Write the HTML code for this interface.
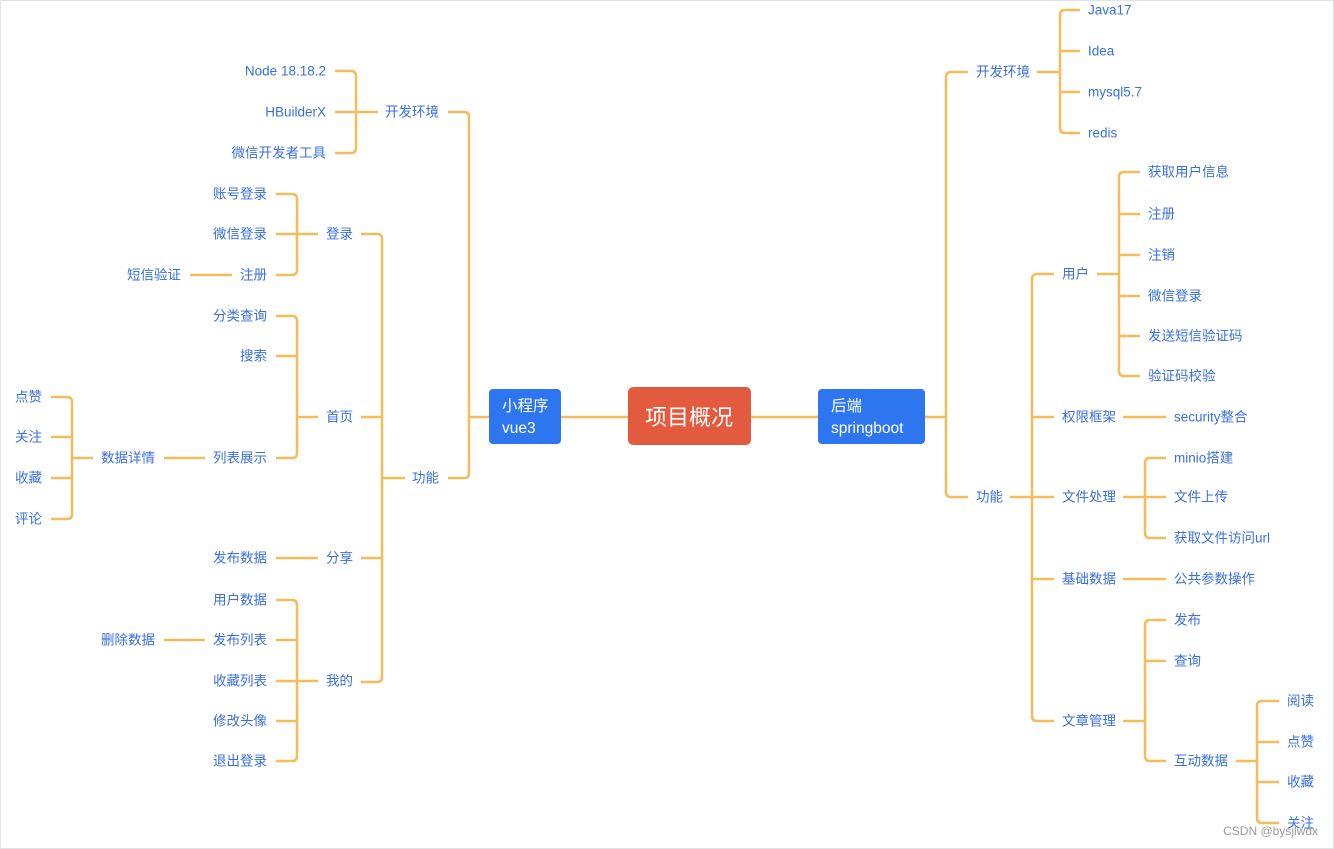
<!DOCTYPE html>
<html><head><meta charset="utf-8"><style>
html,body{margin:0;padding:0;background:#fff}
svg{display:block}
text{font-family:"Liberation Sans","Noto Sans CJK SC",sans-serif;font-size:13.5px;fill:#3a6fe0;dominant-baseline:middle}
.e{text-anchor:end}
.w{fill:#fff;font-size:15.5px}
</style></head><body>
<svg width="1334" height="849" viewBox="0 0 1334 849" xmlns="http://www.w3.org/2000/svg">
<rect x="0.5" y="0.5" width="1333" height="848" fill="#fff" stroke="#dfe3e8"/>
<g fill="none" stroke="#f2bd5a" stroke-width="2.5">
<path d="M335,71 H351 Q356,71 356,76 V148 Q356,153 351,153 H335 M335,112 H378"/>
<path d="M448,112 H464 Q469,112 469,117 V473 Q469,478 464,478 H448 M469,417 H489"/>
<path d="M276,194 H292 Q297,194 297,199 V270 Q297,275 292,275 H276 M276,234 H318 M190,275 H232"/>
<path d="M361,234 H377 Q382,234 382,239 V677 Q382,682 377,682 H361 M361,417 H382 M361,558 H382 M382,478 H405"/>
<path d="M276,316 H292 Q297,316 297,321 V453 Q297,458 292,458 H276 M276,356 H297 M297,417 H318 M164,458 H205"/>
<path d="M51,397 H67 Q72,397 72,402 V514 Q72,519 67,519 H51 M51,437 H72 M51,478 H72 M72,458 H93"/>
<path d="M276,558 H318"/>
<path d="M276,600 H292 Q297,600 297,605 V756 Q297,761 292,761 H276 M276,640 H297 M276,681 H318 M276,721 H297 M164,640 H205"/>
<path d="M561,417 H628 M751,417 H818"/>
<path d="M925,417 H946 M968,72 H951 Q946,72 946,77 V492 Q946,497 951,497 H968"/>
<path d="M1037,72 H1060 M1080,10 H1065 Q1060,10 1060,15 V128 Q1060,133 1065,133 H1080 M1060,51 H1080 M1060,92 H1080"/>
<path d="M1010,497 H1054 M1054,274 H1037 Q1032,274 1032,279 V716 Q1032,721 1037,721 H1054 M1032,417 H1054 M1032,579 H1054"/>
<path d="M1097,274 H1119 M1140,172 H1124 Q1119,172 1119,177 V371 Q1119,376 1124,376 H1140 M1119,214 H1140 M1119,255 H1140 M1119,296 H1140 M1119,336 H1140"/>
<path d="M1123,417 H1166 M1123,497 H1166 M1166,458 H1150 Q1145,458 1145,463 V533 Q1145,538 1150,538 H1166"/>
<path d="M1123,579 H1166"/>
<path d="M1123,721 H1145 M1166,620 H1150 Q1145,620 1145,625 V756 Q1145,761 1150,761 H1166 M1145,661 H1166"/>
<path d="M1236,761 H1257 M1279,701 H1262 Q1257,701 1257,706 V818 Q1257,823 1262,823 H1279 M1257,742 H1279 M1257,782 H1279"/>
</g>
<rect x="489" y="389" width="72" height="55" rx="4" fill="#2d76ef"/>
<text x="502" y="407" class="w">小程序</text><text x="502" y="429" class="w">vue3</text>
<rect x="628" y="387" width="123" height="58" rx="5" fill="#e35b3f"/>
<text x="689" y="419" class="w" style="font-size:22px;text-anchor:middle">项目概况</text>
<rect x="818" y="389" width="107" height="55" rx="4" fill="#2d76ef"/>
<text x="831" y="407" class="w">后端</text><text x="831" y="429" class="w">springboot</text>
<g transform="translate(0,1)">
<text x="326" y="71" class="e">Node 18.18.2</text>
<text x="326" y="112" class="e">HBuilderX</text>
<text x="326" y="153" class="e">微信开发者工具</text>
<text x="439" y="112" class="e">开发环境</text>
<text x="267" y="194" class="e">账号登录</text>
<text x="267" y="234" class="e">微信登录</text>
<text x="267" y="275" class="e">注册</text>
<text x="181" y="275" class="e">短信验证</text>
<text x="353" y="234" class="e">登录</text>
<text x="267" y="316" class="e">分类查询</text>
<text x="267" y="356" class="e">搜索</text>
<text x="267" y="458" class="e">列表展示</text>
<text x="353" y="417" class="e">首页</text>
<text x="155" y="458" class="e">数据详情</text>
<text x="42" y="397" class="e">点赞</text>
<text x="42" y="437" class="e">关注</text>
<text x="42" y="478" class="e">收藏</text>
<text x="42" y="519" class="e">评论</text>
<text x="439" y="478" class="e">功能</text>
<text x="267" y="558" class="e">发布数据</text>
<text x="353" y="558" class="e">分享</text>
<text x="267" y="600" class="e">用户数据</text>
<text x="267" y="640" class="e">发布列表</text>
<text x="267" y="681" class="e">收藏列表</text>
<text x="267" y="721" class="e">修改头像</text>
<text x="267" y="761" class="e">退出登录</text>
<text x="353" y="681" class="e">我的</text>
<text x="155" y="640" class="e">删除数据</text>

<text x="976" y="72">开发环境</text>
<text x="1088" y="10">Java17</text>
<text x="1088" y="51">Idea</text>
<text x="1088" y="92">mysql5.7</text>
<text x="1088" y="133">redis</text>
<text x="976" y="497">功能</text>
<text x="1062" y="274">用户</text>
<text x="1148" y="172">获取用户信息</text>
<text x="1148" y="214">注册</text>
<text x="1148" y="255">注销</text>
<text x="1148" y="296">微信登录</text>
<text x="1148" y="336">发送短信验证码</text>
<text x="1148" y="376">验证码校验</text>
<text x="1062" y="417">权限框架</text>
<text x="1174" y="417">security整合</text>
<text x="1062" y="497">文件处理</text>
<text x="1174" y="458">minio搭建</text>
<text x="1174" y="497">文件上传</text>
<text x="1174" y="538">获取文件访问url</text>
<text x="1062" y="579">基础数据</text>
<text x="1174" y="579">公共参数操作</text>
<text x="1062" y="721">文章管理</text>
<text x="1174" y="620">发布</text>
<text x="1174" y="661">查询</text>
<text x="1174" y="761">互动数据</text>
<text x="1287" y="701">阅读</text>
<text x="1287" y="742">点赞</text>
<text x="1287" y="782">收藏</text>
<text x="1287" y="823">关注</text>
</g>
<text x="1318" y="832" class="e" style="fill:#999;font-size:12px">CSDN @bysjlwdx</text>
</svg>
</body></html>
